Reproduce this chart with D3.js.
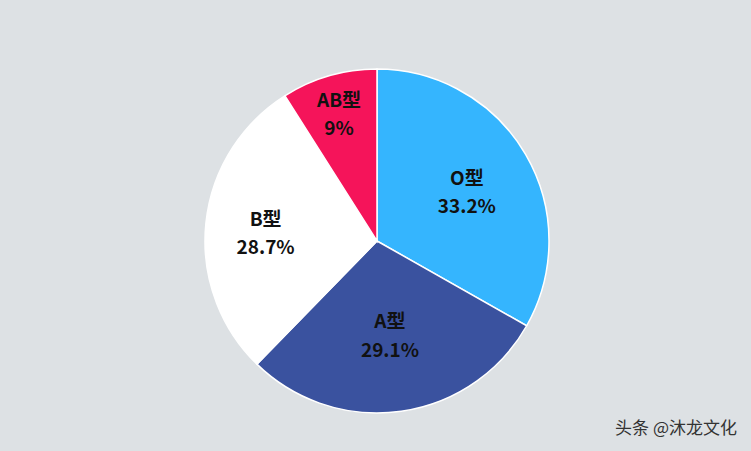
<!DOCTYPE html>
<html>
<head>
<meta charset="UTF-8">
<script src="https://d3js.org/d3.v7.min.js"></script>
<style>body{margin:0;background:#dde1e4;}</style>
</head>
<body>
<svg width="751" height="451"></svg>
<script>
const types = ["O型", "A型", "B型", "AB型"];
const shares = [33.2, 29.1, 28.7, 9];
const labels = ["33.2%", "29.1%", "28.7%", "9%"];
const colors = ["#35b5fe", "#3a529f", "#ffffff", "#f5145a"];

const svg = d3.select("svg");
const cx = 377, cy = 241, R = 172;
const g = svg.append("g").attr("transform", `translate(${cx},${cy})`);

const pie = d3.pie().sort(null).value(d => d);
const arcs = pie(shares);
const arc = d3.arc().innerRadius(0).outerRadius(R);
// label distance from centre, per slice (best-fit placement)
const labelR = [104, 92, 112, 136];

g.selectAll("path").data(arcs).enter().append("path")
    .attr("d", arc)
    .attr("fill", (d, i) => colors[i])
    .attr("stroke", "#ffffff")
    .attr("stroke-width", 1.5);

const t = g.selectAll("text").data(arcs).enter().append("text")
    .attr("transform", (d, i) => `translate(${d3.arc().innerRadius(labelR[i]).outerRadius(labelR[i]).centroid(d)})`)
    .attr("text-anchor", "middle")
    .attr("font-family", "'Noto Sans CJK SC', sans-serif")
    .attr("font-weight", "bold")
    .attr("font-size", 19)
    .attr("fill", "#111");
t.append("tspan").attr("x", 0).attr("dy", "-0.2em").text((d, i) => types[i]);
t.append("tspan").attr("x", 0).attr("dy", "1.5em").text((d, i) => labels[i]);

svg.append("text").attr("x", 737).attr("y", 434)
    .attr("text-anchor", "end")
    .attr("font-family", "'Noto Sans CJK SC', sans-serif")
    .attr("font-size", 17).attr("fill", "#333")
    .text("头条 @沐龙文化");
</script>
</body>
</html>
